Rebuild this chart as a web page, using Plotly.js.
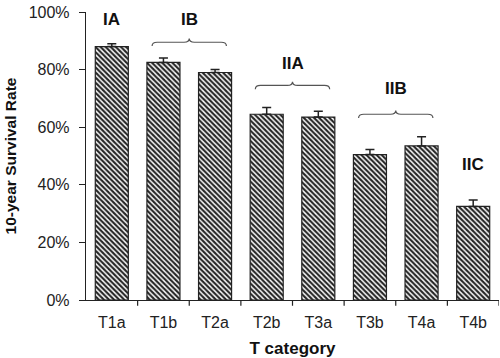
<!DOCTYPE html>
<html><head><meta charset="utf-8">
<script src="https://cdn.plot.ly/plotly-3.0.1.min.js"></script>
<style>body{margin:0;padding:0;background:#fff}#c{width:500px;height:358px}</style>
</head><body><div id="c"></div>
<script>
const categories = ["T1a","T1b","T2a","T2b","T3a","T3b","T4a","T4b"];
const survival = [88, 82.5, 79, 64.5, 63.5, 50.5, 53.5, 32.5];
const errPlus = [1.0, 1.5, 1.0, 2.3, 2.0, 1.8, 3.2, 2.2];
const groupNames = ["IA","IB","IIA","IIB","IIC"];
const groupStart = [0, 1, 3, 5, 7];
const groupEnd = [0, 2, 4, 6, 7];
const groupLabelY = [97.5, 97.5, 82, 73.5, 47];
const braceY = [null, 89.5, 74.5, 64.5, null];

const shapes = [];
const annotations = [];
for (let i = 0; i < groupNames.length; i++) {
  const mid = (groupStart[i] + groupEnd[i]) / 2;
  annotations.push({x: mid, y: groupLabelY[i], xref: 'x', yref: 'y', text: '<b>' + groupNames[i] + '</b>',
    showarrow: false, font: {family: 'Liberation Sans, Arial', size: 17, color: '#111'}});
  if (braceY[i] !== null) {
    const x0 = groupStart[i] - 0.22, x1 = groupEnd[i] + 0.22, y = braceY[i];
    const h = 1.3;
    const path = `M ${x0},${y - h} Q ${x0},${y} ${x0 + 0.1},${y} L ${mid - 0.1},${y} Q ${mid},${y} ${mid},${y + h} Q ${mid},${y} ${mid + 0.1},${y} L ${x1 - 0.1},${y} Q ${x1},${y} ${x1},${y - h}`;
    shapes.push({type: 'path', xref: 'x', yref: 'y', path: path, line: {color: '#555', width: 1.2}});
  }
}

const trace = {
  type: 'bar', x: categories.map((c, i) => i), y: survival,
  marker: {color: '#fff', line: {color: '#222', width: 1.2},
    pattern: {shape: '\\', fgcolor: '#262626', bgcolor: '#fff', size: 3.6, solidity: 0.6}},
  error_y: {type: 'data', symmetric: false, array: errPlus, arrayminus: survival.map(() => 0),
    color: '#222', thickness: 1.5, width: 4.5},
  width: 0.64
};

const layout = {
  width: 500, height: 358,
  margin: {l: 86, r: 1, t: 12, b: 58},
  paper_bgcolor: '#fff', plot_bgcolor: '#fff',
  showlegend: false,
  font: {family: 'Liberation Sans, Arial', size: 16, color: '#222'},
  xaxis: {
    tickmode: 'array', tickvals: categories.map((c, i) => i), ticktext: categories,
    range: [-0.5, 7.5], showgrid: false, zeroline: false,
    showline: true, linecolor: '#222', linewidth: 1.2,
    ticks: '', ticklabelstandoff: 8,
    title: {text: '<b>T category</b>', font: {size: 17, color: '#111'}, standoff: 14},
    tickfont: {size: 16}
  },
  yaxis: {
    range: [0, 100], tickvals: [0, 20, 40, 60, 80, 100], ticktext: ['0%','20%','40%','60%','80%','100%'],
    showgrid: false, zeroline: false, showline: true, linecolor: '#222', linewidth: 1.2,
    ticks: 'outside', ticklen: 6, tickcolor: '#222', ticklabelstandoff: 6,
    title: {text: '<b>10-year Survival Rate</b>', font: {size: 15.5, color: '#111'}, standoff: 8},
    tickfont: {size: 16}
  },
  shapes: shapes.concat(categories.map((c, i) => ({
    type: 'line', xref: 'x', yref: 'paper', x0: i + 0.5, x1: i + 0.5, y0: 0, y1: -0.02,
    line: {color: '#222', width: 1.2}
  }))),
  annotations: annotations
};

Plotly.newPlot('c', [trace], layout, {staticPlot: true});
</script></body></html>
